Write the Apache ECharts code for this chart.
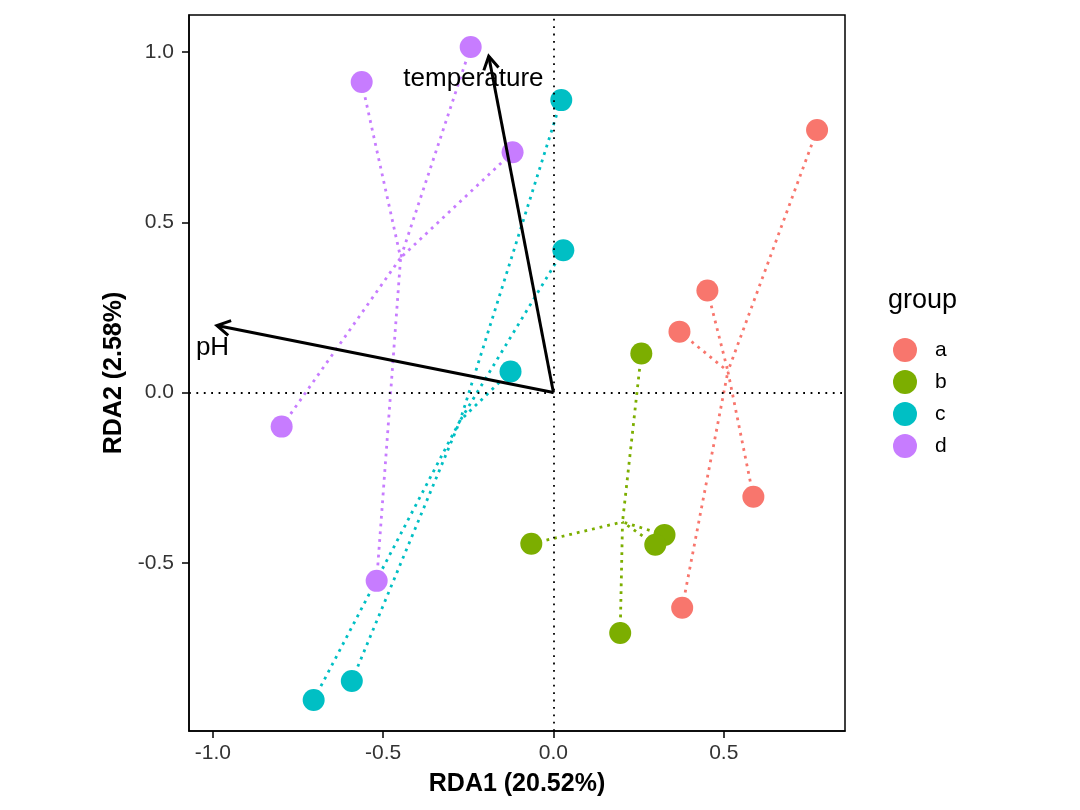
<!DOCTYPE html>
<html>
<head>
<meta charset="utf-8">
<script src="https://cdn.jsdelivr.net/npm/echarts@6/dist/echarts.min.js"></script>
<style>
  html, body { margin: 0; padding: 0; background: #fff; }
  #chart { width: 1080px; height: 810px; }
</style>
</head>
<body>
<div id="chart"></div>
<script>
// sample scores (RDA1, RDA2) per group
var groupNames = ['a', 'b', 'c', 'd'];
var groupA = [[0.774, 0.771], [0.452, 0.300], [0.370, 0.179], [0.587, -0.306], [0.378, -0.632]];
var groupB = [[0.258, 0.115], [0.326, -0.418], [0.299, -0.447], [-0.065, -0.444], [0.196, -0.706]];
var groupC = [[0.023, 0.859], [0.029, 0.418], [-0.126, 0.062], [-0.592, -0.847], [-0.704, -0.903]];
var groupD = [[-0.243, 1.015], [-0.563, 0.912], [-0.120, 0.706], [-0.798, -0.100], [-0.519, -0.553]];

// environmental arrows: name, tip, label position
var envNames = ['temperature', 'pH'];
var envTips = [[-0.190, 0.988], [-0.988, 0.197]];
var envLabels = [[-0.235, 0.922], [-1.001, 0.130]];

var xTicks = [-1.0, -0.5, 0.0, 0.5];
var yTicks = [-0.5, 0.0, 0.5, 1.0];

var colors = ['#F8766D', '#7CAE00', '#00BFC4', '#C77CFF'];
var chart = echarts.init(document.getElementById('chart'));

var allGroups = [groupA, groupB, groupC, groupD];
var FONT = '"Liberation Sans", Arial, sans-serif';

function centroid(pts) {
  var sx = 0, sy = 0;
  pts.forEach(function (p) { sx += p[0]; sy += p[1]; });
  return [sx / pts.length, sy / pts.length];
}

var series = [];
// spider lines from each sample to its group centroid
allGroups.forEach(function (pts, i) {
  var c = centroid(pts);
  var d = [];
  pts.forEach(function (p) { d.push(p, c, '-'); });
  series.push({
    type: 'line',
    data: d,
    symbol: 'none',
    silent: true,
    z: 1,
    lineStyle: { color: colors[i], width: 2.8, type: [2.8, 5], cap: 'butt' }
  });
});

// reference lines at 0
series.push({
  type: 'line',
  data: [],
  markLine: {
    silent: true,
    symbol: 'none',
    label: { show: false },
    lineStyle: { color: '#000', width: 1.8, type: [1.8, 5.6] },
    data: [{ xAxis: 0 }, { yAxis: 0 }]
  },
  z: 0
});

// points
allGroups.forEach(function (pts, i) {
  series.push({
    name: groupNames[i],
    type: 'scatter',
    data: pts,
    symbolSize: 22,
    itemStyle: { color: colors[i], opacity: 1 },
    z: 3
  });
});

// arrows
series.push({
  type: 'custom',
  data: envTips,
  z: 4,
  silent: true,
  renderItem: function (params, api) {
    var o = api.coord([0, 0]);
    var t = api.coord([api.value(0), api.value(1)]);
    var ang = Math.atan2(t[1] - o[1], t[0] - o[0]);
    var L = 15, a = Math.PI / 6;
    var h1 = [t[0] - L * Math.cos(ang - a), t[1] - L * Math.sin(ang - a)];
    var h2 = [t[0] - L * Math.cos(ang + a), t[1] - L * Math.sin(ang + a)];
    return {
      type: 'group',
      children: [
        { type: 'line', shape: { x1: o[0], y1: o[1], x2: t[0], y2: t[1] },
          style: { stroke: '#000', lineWidth: 3 } },
        { type: 'polyline', shape: { points: [h1, t, h2] },
          style: { stroke: '#000', lineWidth: 3, fill: null } }
      ]
    };
  }
});

// arrow labels
series.push({
  type: 'custom',
  data: envLabels,
  z: 5,
  silent: true,
  renderItem: function (params, api) {
    var p = api.coord([api.value(0), api.value(1)]);
    return {
      type: 'text',
      x: p[0], y: p[1],
      style: {
        text: envNames[params.dataIndex], fill: '#000',
        fontSize: 26, fontFamily: FONT, align: 'center', verticalAlign: 'middle'
      }
    };
  }
});

var option = {
  animation: false,
  backgroundColor: '#fff',
  textStyle: { fontFamily: FONT },
  grid: {
    left: 189, right: 235, top: 15, bottom: 79,
    show: true, borderColor: '#000', borderWidth: 1.5, backgroundColor: 'transparent'
  },
  xAxis: {
    type: 'value', min: -1.07, max: 0.856,
    name: 'RDA1 (20.52%)', nameLocation: 'middle', nameGap: 41,
    nameTextStyle: { color: '#000', fontSize: 25, fontWeight: 'bold', fontFamily: FONT },
    axisLine: { show: true, onZero: false, lineStyle: { color: '#000', width: 1.5 } },
    axisTick: { show: true, length: 7, customValues: xTicks, lineStyle: { color: '#000', width: 1.5 } },
    axisLabel: { customValues: xTicks, color: '#333', fontSize: 21, margin: 12,
      formatter: function (v) { return v.toFixed(1); } },
    splitLine: { show: false }
  },
  yAxis: {
    type: 'value', min: -0.994, max: 1.109,
    name: 'RDA2 (2.58%)', nameLocation: 'middle', nameGap: 60, nameRotate: 90,
    nameTextStyle: { color: '#000', fontSize: 25, fontWeight: 'bold', fontFamily: FONT },
    axisLine: { show: true, onZero: false, lineStyle: { color: '#000', width: 1.5 } },
    axisTick: { show: true, length: 7, customValues: yTicks, lineStyle: { color: '#000', width: 1.5 } },
    axisLabel: { customValues: yTicks, color: '#333', fontSize: 21, margin: 15,
      formatter: function (v) { return v.toFixed(1); } },
    splitLine: { show: false }
  },
  legend: {
    data: groupNames,
    orient: 'vertical',
    left: 888, top: 333,
    itemWidth: 24, itemHeight: 24, itemGap: 8,
    icon: 'circle',
    textStyle: { color: '#000', fontSize: 21, padding: [0, 0, 0, 13] }
  },
  graphic: [{
    type: 'text', left: 888, top: 287,
    style: { text: 'group', fontSize: 27, fill: '#000', fontFamily: FONT }
  }],
  series: series
};

chart.setOption(option);
</script>
</body>
</html>
